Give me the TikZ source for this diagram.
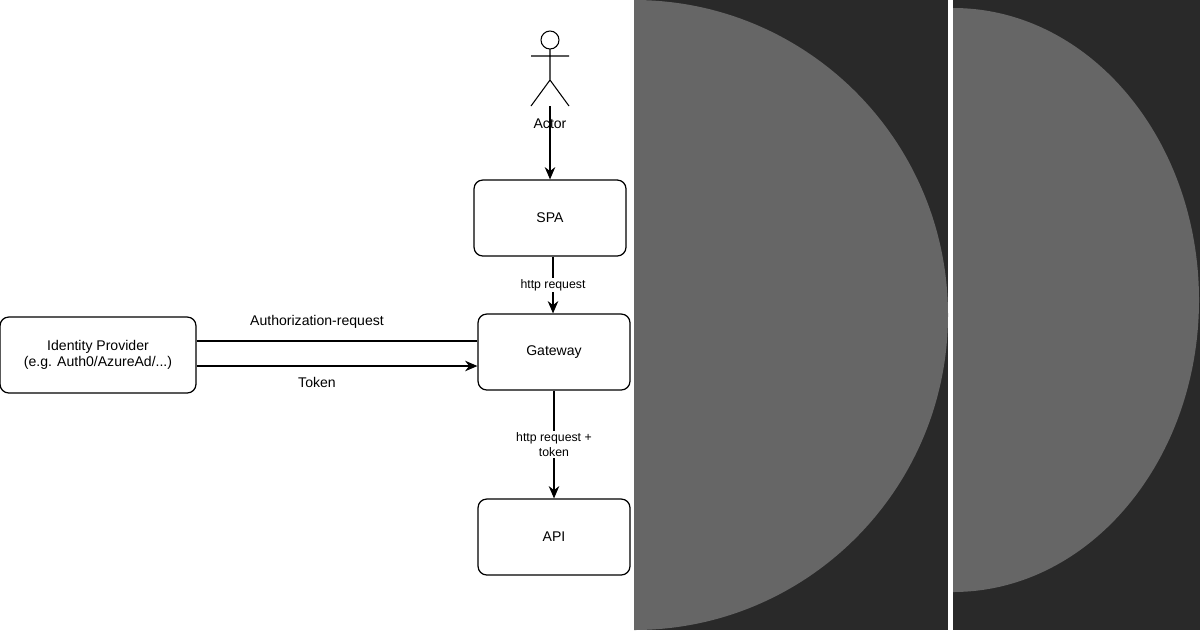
\documentclass[tikz,border=0pt]{standalone}
\usepackage{fontspec}
\setmainfont{Liberation Sans}
\usetikzlibrary{arrows.meta,positioning}
\begin{document}
\begin{tikzpicture}[x=0.02cm,y=-0.02cm]
\tikzstyle{box} = [draw,rounded corners=5pt,line width=0.7pt,minimum width=3.04cm,minimum height=1.52cm,font=\fontsize{8}{9.5}\selectfont,align=center]
\tikzstyle{lbl} = [font=\fontsize{7}{8.5}\selectfont,align=center]
\tikzstyle{conn} = [line width=0.6pt,-{Stealth[length=7pt,width=6pt]}]
\useasboundingbox (0,0) rectangle (1200,630);
% right-hand panels
\fill[black!84] (634,0) rectangle (948,630);
\fill[black!84] (953,0) rectangle (1200,630);
\fill[black!60] (634,0) arc[start angle=-90,end angle=90,x radius=314,y radius=315] -- cycle;
\fill[black!60] (953,8) arc[start angle=-90,end angle=90,x radius=246,y radius=292] -- cycle;
% actor
\draw[line width=0.6pt] (550,40) circle[radius=9];
\draw[line width=0.6pt] (550,49) -- (550,80) (531,56) -- (569,56)
  (531,106) -- (550,80) -- (569,106);
\node[font=\fontsize{8}{9.5}\selectfont] (actor) at (550,124) {Actor};
\coordinate (actorfoot) at (550,106);
% boxes
\node[box] (spa) at (550,218) {SPA};
\node[box] (gw) at (554,352) {Gateway};
\node[box] (api) at (554,537) {API};
\node[box,minimum width=3.92cm] (idp) at (98,355) {Identity Provider\\(e.g. Auth0/AzureAd/...)};
% connectors
\draw[conn] (actorfoot) -- (spa.north);
\draw[conn] (spa.south -| 553,0) -- node[lbl,fill=white,inner sep=1pt] {http request} (gw.north -| 553,0);
\draw[conn] (gw) -- node[lbl,fill=white,inner sep=1pt] {http request +\\token} (api);
\draw[line width=0.6pt] (idp.east |- 0,341) -- (gw.west |- 0,341);
\draw[conn] (idp.east |- 0,366) -- (gw.west |- 0,366);
\node[font=\fontsize{8}{9.5}\selectfont] (authreq) at (317,322) {Authorization-request};
\node[font=\fontsize{8}{9.5}\selectfont] (token) at (317,382) {Token};
\end{tikzpicture}
\end{document}
